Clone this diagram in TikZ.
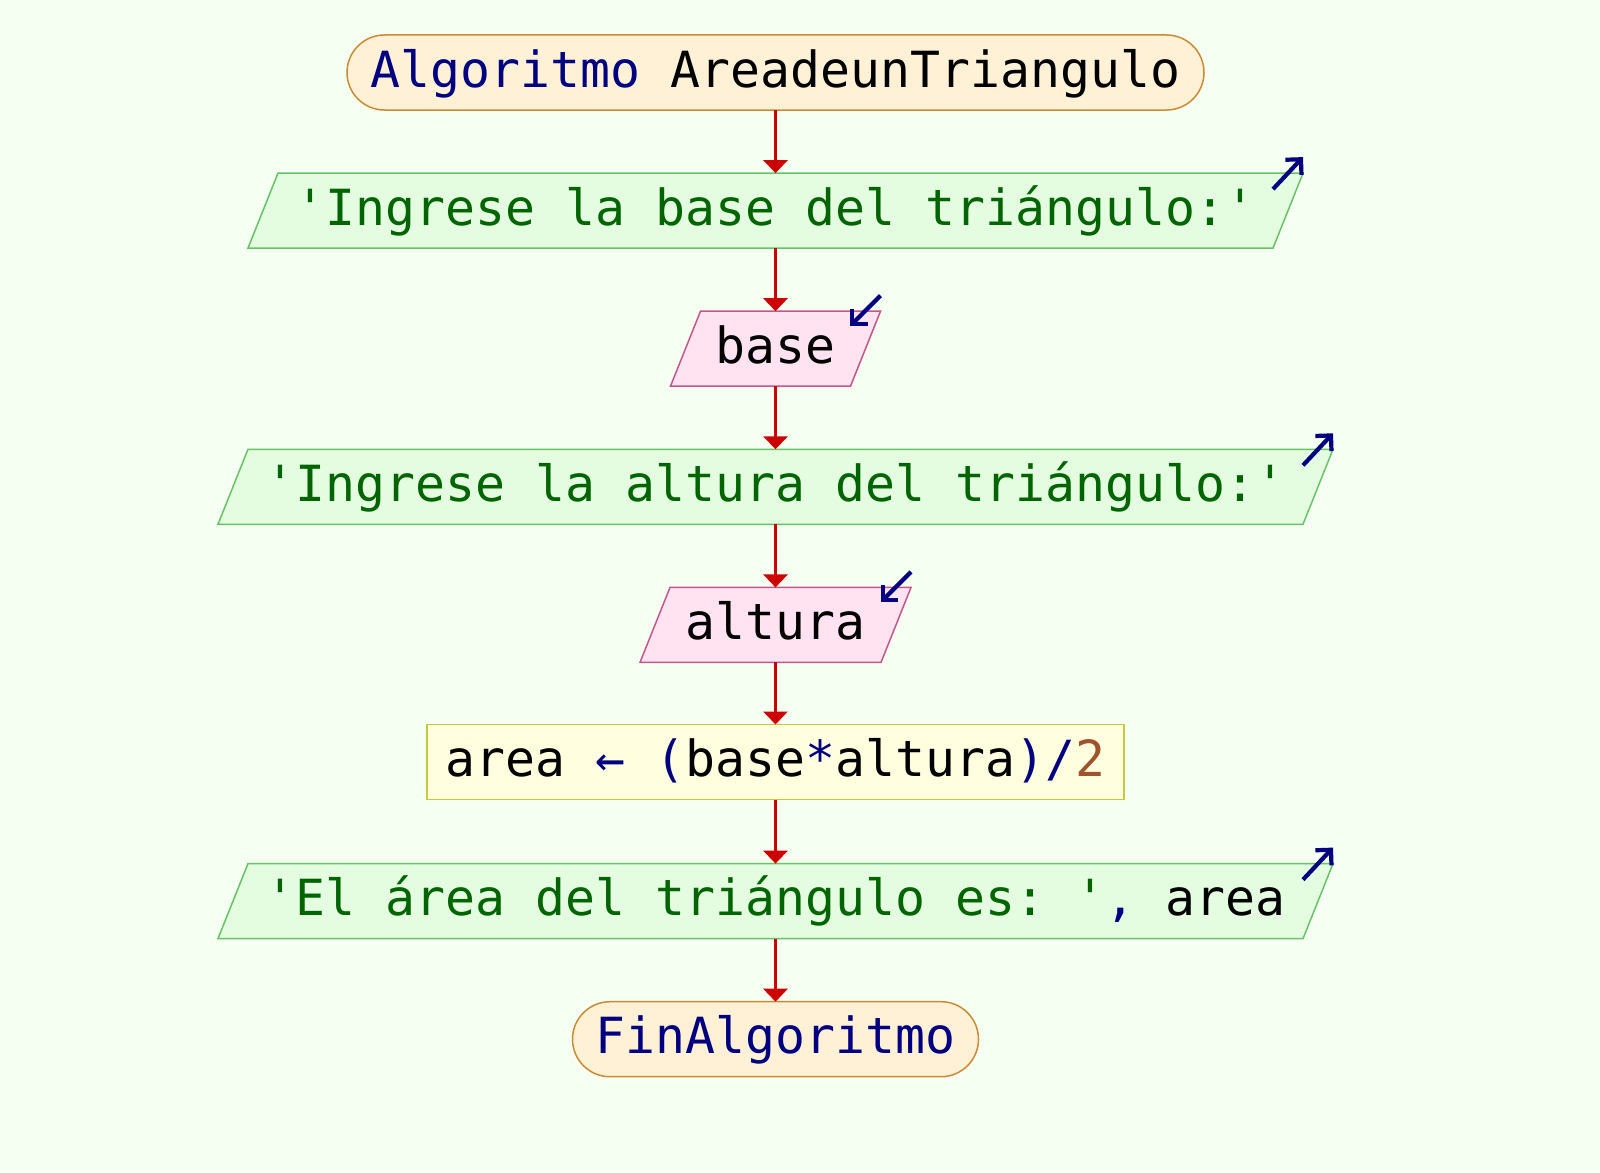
\documentclass[tikz,border=0pt]{standalone}
\usepackage{fontspec}
\setmonofont{DejaVu Sans Mono}
\usetikzlibrary{arrows.meta,calc,backgrounds}
\definecolor{bgc}{HTML}{F5FFF2}
\definecolor{termf}{HTML}{FFF1D6}
\definecolor{termb}{HTML}{CC8A33}
\definecolor{iof}{HTML}{E4FCE0}
\definecolor{iob}{HTML}{66C466}
\definecolor{inf}{HTML}{FFE3F1}
\definecolor{inb}{HTML}{C2578A}
\definecolor{procf}{HTML}{FFFFE0}
\definecolor{procb}{HTML}{C8C83C}
\definecolor{flowc}{HTML}{CC0000}
\definecolor{navyc}{HTML}{000080}
\definecolor{greenc}{HTML}{006400}
\definecolor{brownc}{HTML}{A0522D}
\begin{document}
\begin{tikzpicture}[x=1pt,y=-1pt,
  txt/.style={font=\ttfamily\fontsize{49.8}{60}\selectfont, text height=36pt, text depth=7pt, inner sep=0pt, outer sep=0pt, minimum height=75pt},
  term/.style={txt, draw=termb, fill=termf, line width=1.5pt, rounded corners=37.5pt},
  ionode/.style={txt, text=greenc},
  innode/.style={txt, text=black},
  proc/.style={txt, draw=procb, fill=procf, line width=1.5pt},
  iodraw/.style={draw=iob, fill=iof, line width=1.5pt},
  indraw/.style={draw=inb, fill=inf, line width=1.5pt},
  flow/.style={draw=flowc, line width=3.5pt, -{Triangle[length=13pt,width=24pt]}},
  outarr/.style={draw=navyc, line width=4.2pt, -{Straight Barb[length=11pt,width=22pt]}}
]
\useasboundingbox (0,0) rectangle (1600,1172);
\begin{scope}[on background layer]
\fill[bgc] (0,0) rectangle (1600,1172);
\end{scope}

\node[term, minimum width=857pt] (start) at (775.5,72.5) {{\color{navyc}Algoritmo} AreadeunTriangulo};
\node[ionode, minimum width=1025pt] (p1) at (775.5,210.6) {'Ingrese la base del triángulo:'};
\node[innode, minimum width=180pt] (vb) at (775.5,348.7) {base};
\node[ionode, minimum width=1085pt] (p2) at (775.5,486.8) {'Ingrese la altura del triángulo:'};
\node[innode, minimum width=241pt] (va) at (775.5,624.9) {altura};
\node[proc, minimum width=697pt] (pr) at (775.5,762) {area {\color{navyc}← (}base{\color{navyc}*}altura{\color{navyc})/}{\color{brownc}2}};
\node[ionode, minimum width=1085pt] (p3) at (775.5,901.1) {'El área del triángulo es: '{\color{navyc},} {\color{black}area}};
\node[term, minimum width=406pt] (fin) at (775.5,1039.2) {{\color{navyc}FinAlgoritmo}};

\begin{scope}[on background layer]
\foreach \n in {p1,p2,p3}{
  \draw[iodraw] ($(\n.south west)+(-15,0)$) -- ($(\n.north west)+(15,0)$) -- ($(\n.north east)+(15,0)$) -- ($(\n.south east)+(-15,0)$) -- cycle;
}
\foreach \n in {vb,va}{
  \draw[indraw] ($(\n.south west)+(-15,0)$) -- ($(\n.north west)+(15,0)$) -- ($(\n.north east)+(15,0)$) -- ($(\n.south east)+(-15,0)$) -- cycle;
}
\end{scope}

\foreach \n in {p1,p2,p3}{
  \coordinate (\n c) at ($(\n.north east)+(15,0)$);
  \draw[outarr] ($(\n c)+(-30,16)$) -- ($(\n c)+(0,-16)$);
}
\foreach \n in {vb,va}{
  \coordinate (\n c) at ($(\n.north east)+(15,0)$);
  \draw[outarr] ($(\n c)+(0,-15.5)$) -- ($(\n c)+(-30.5,15)$);
}

\draw[flow] (start) -- (p1);
\draw[flow] (p1) -- (vb);
\draw[flow] (vb) -- (p2);
\draw[flow] (p2) -- (va);
\draw[flow] (va) -- (pr);
\draw[flow] (pr) -- (p3);
\draw[flow] (p3) -- (fin);
\end{tikzpicture}
\end{document}
